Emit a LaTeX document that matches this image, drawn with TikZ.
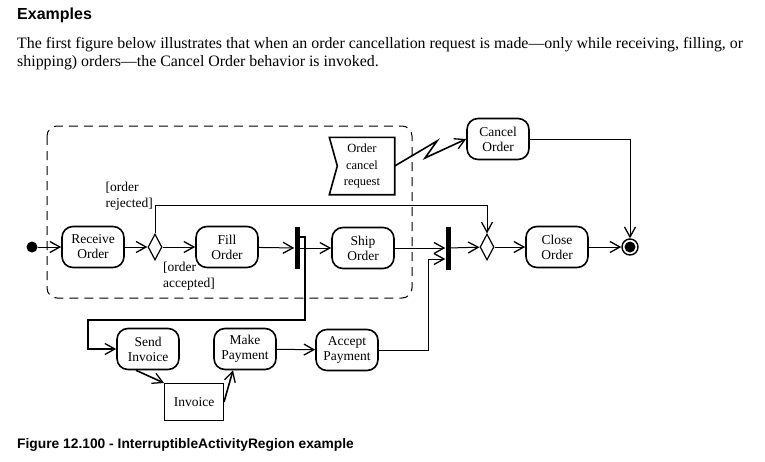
\documentclass[tikz,border=0pt]{standalone}
\usepackage{fontspec}
\setmainfont{Liberation Serif}
\newfontfamily\headfont{Liberation Sans}
\usetikzlibrary{arrows.meta,positioning,shapes.geometric}
\tikzstyle{action} = [draw, line width=1.6pt, rounded corners=11pt, minimum width=62pt, minimum height=41pt, align=center, font=\fontsize{13.5}{15}\selectfont, inner sep=1pt]
\tikzstyle{bar} = [fill=black, minimum width=5pt, inner sep=0pt]
\tikzstyle{choice} = [diamond, draw, line width=1.2pt, minimum width=14pt, minimum height=26pt, inner sep=0pt, aspect=0.5]
\tikzstyle{flow} = [line width=1pt, -{Straight Barb[length=10pt,width=11pt,line width=1.3pt]}]
\tikzstyle{guard} = [align=left, font=\fontsize{13.5}{16}\selectfont, inner sep=0pt]
\begin{document}
\begin{tikzpicture}[x=1pt,y=-1pt]
\useasboundingbox (0,0) rectangle (765,461);
% text around the picture
\node[anchor=base west, inner sep=0pt, font=\headfont\bfseries\fontsize{16}{18}\selectfont] (head) at (17,19) {Examples};
\node[anchor=north west, inner sep=0pt, font=\fontsize{15.9}{18.5}\selectfont, align=left] (para) at (17,37) {The first figure below illustrates that when an order cancellation request is made---only while receiving, filling, or\\shipping) orders---the Cancel Order behavior is invoked.};
\node[anchor=base west, inner sep=0pt, font=\headfont\bfseries\fontsize{13.8}{16}\selectfont] (cap) at (17,448) {Figure 12.100 - InterruptibleActivityRegion example};
% interruptible region
\draw[line width=1pt, dash pattern=on 9pt off 6pt, rounded corners=10pt] (47,126) rectangle (412,298);
% nodes
\node[circle, fill=black, minimum size=11pt, inner sep=0pt] (start) at (32,247) {};
\node[action] (recv) at (93,247) {Receive\\Order};
\node[choice] (d1) at (155,247) {};
\node[action] (fill) at (227,247) {Fill\\Order};
\node[bar, minimum height=42pt] (fork) at (297,248) {};
\node[action] (ship) at (363,248) {Ship\\Order};
\node[bar, minimum height=43pt] (join) at (448,248) {};
\node[choice] (d2) at (487,247) {};
\node[action] (close) at (557,247) {Close\\Order};
\node[circle, draw, line width=1.4pt, minimum size=16pt, inner sep=0pt] (end) at (630,247) {};
\fill (end.center) circle (5.5pt);
\node[action] (cancel) at (498,139) {Cancel\\Order};
\node[action] (send) at (148,349) {Send\\Invoice};
\node[draw, line width=1pt, minimum width=59pt, minimum height=37pt, font=\fontsize{13.5}{15}\selectfont] (inv) at (194,402) {Invoice};
\node[action] (make) at (245,349) {Make\\Payment};
\node[action] (accept) at (347,350) {Accept\\Payment};
% accept event
\node[align=center, font=\fontsize{12.5}{16.5}\selectfont, minimum width=65pt, minimum height=57pt, inner sep=0pt, xshift=3pt] (ocr) at (359,166) {Order\\cancel\\request};
\draw[line width=1.6pt] (ocr.north west) -- (ocr.north east) -- (ocr.south east) -- (ocr.south west) -- ([xshift=8pt]ocr.west) -- cycle;
% guards
\node[guard, anchor=south east] (rej) at (153,211) {[order\\rejected]};
\node[guard, anchor=north west] (acc) at (163,262) {[order\\accepted]};
% flows
\draw[flow] (start) -- (recv);
\draw[flow] (recv) -- (d1);
\draw[flow] (d1) -- (fill);
\draw[flow] (fill) -- (fork);
\draw[flow] (fork.east |- ship) -- (ship);
\draw[flow] (ship) -- (ship -| join.west);
\draw[flow] (join) -- (d2);
\draw[flow] (d2) -- (close);
\draw[flow] (close) -- (end);
\draw[flow] (d1.north) |- (487,205) -- (d2.north);
\draw[flow] (cancel.east) -| (end.north);
\draw[flow, line width=1.6pt] (ocr.east) -- (437,141) -- (425,158) -- (cancel.west);
\draw[flow, line width=1.6pt] ([yshift=11pt]fork.east) -| (305,320) -| (88,349) -- (send.west);
\draw[flow, line width=1.6pt] ([xshift=-12pt]send.south) -- (inv.north west);
\draw[flow, line width=1.6pt] (inv.east) -- ([xshift=-12pt]make.south);
\draw[flow] (make) -- (accept);
\draw[flow] (accept.east) -| (428,259) -- ([yshift=-11pt]join.west);
\end{tikzpicture}
\end{document}
